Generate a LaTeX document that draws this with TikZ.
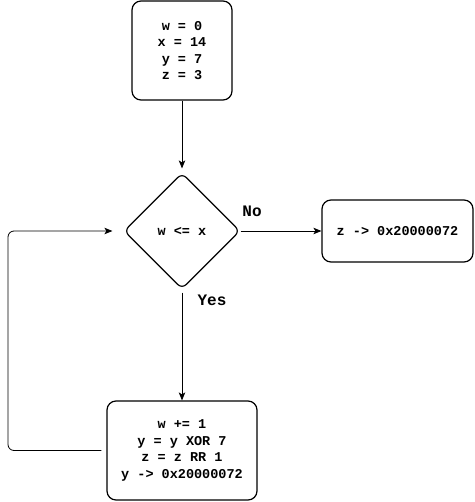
\documentclass[tikz,border=0pt]{standalone}
\usepackage{fontspec}
\usepackage{tikz}
\usetikzlibrary{shapes.geometric,arrows.meta}
\newfontfamily\codefont{Liberation Mono}

\tikzset{
  box/.style={draw, line width=1.2pt, rounded corners=9pt, align=center,
    font=\codefont\bfseries\fontsize{13.5}{16.4}\selectfont},
  cond/.style={draw, diamond, line width=1.2pt, rounded corners=6pt, inner sep=0pt,
    minimum width=116pt, minimum height=116pt,
    font=\codefont\bfseries\fontsize{13.5}{16.4}\selectfont},
  flow/.style={line width=0.8pt, -{Stealth[length=8pt,width=6.5pt,inset=2pt]}},
  tag/.style={font=\codefont\bfseries\fontsize{16}{18}\selectfont}
}

\begin{document}
\begin{tikzpicture}[x=1pt,y=-1pt]
  \useasboundingbox (0,0) rectangle (474,502);
  % boxes
  \node[box, minimum width=100pt, minimum height=99pt] (init) at (182,50.5)
      {w = 0\\x = 14\\y = 7\\z = 3};
  \node[cond] (test) at (182,231) {w <= x};
  \node[box, minimum width=151pt, minimum height=62pt] (done) at (397.5,231)
      {z -> 0x20000072};
  \node[box, minimum width=150pt, minimum height=99pt] (body) at (182,450.5)
      {w += 1\\y = y XOR 7\\z = z RR 1\\y -> 0x20000072};
  \coordinate (back) at (8,231);
  % connectors
  \draw[flow, shorten >=4pt] (init.south) -- (test.north);
  \draw[flow] (test.east) -- (done.west);
  \draw[flow, shorten <=3pt] (test.south) -- (body.north);
  \draw[flow, rounded corners=6pt, shorten >=11pt] ([xshift=-5pt]body.west) -| (back) -- (test.west);
  % labels
  \node[tag] (no) at (252,211) {No};
  \node[tag] (yes) at (212,300) {Yes};
\end{tikzpicture}
\end{document}
